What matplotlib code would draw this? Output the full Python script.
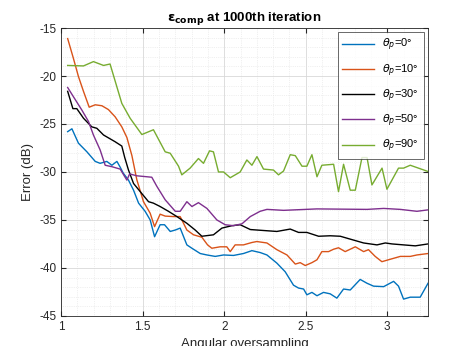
import matplotlib
matplotlib.use("Agg")
import matplotlib.pyplot as plt
from matplotlib.ticker import MultipleLocator, FuncFormatter

plt.rcParams['font.family'] = ['Liberation Sans', 'DejaVu Sans']
plt.rcParams['axes.unicode_minus'] = False

# theta_p = 0 deg
x0 = [1.04, 1.066, 1.106, 1.158, 1.209, 1.239, 1.28, 1.311, 1.342, 1.362, 1.38, 1.413,
      1.444, 1.475, 1.515, 1.546, 1.573, 1.607, 1.634, 1.669, 1.70, 1.73, 1.771, 1.802,
      1.853, 1.894, 1.945, 1.996, 2.057, 2.118, 2.17, 2.221, 2.262, 2.323, 2.374, 2.425,
      2.456, 2.487, 2.507, 2.538, 2.569, 2.609, 2.65, 2.691, 2.732, 2.773, 2.834, 2.876,
      2.916, 2.978, 3.039, 3.069, 3.10, 3.141, 3.202, 3.25]
y0 = [-25.8, -25.5, -27.0, -27.9, -28.9, -29.1, -28.9, -29.3, -28.9, -29.5, -30.1, -30.85,
      -31.9, -33.25, -34.1, -35.0, -36.75, -35.5, -35.5, -36.2, -36.05, -35.85, -37.6, -37.95,
      -38.5, -38.65, -38.8, -38.65, -38.7, -38.5, -38.2, -38.4, -38.65, -39.5, -40.4, -41.8,
      -42.1, -42.2, -42.8, -42.55, -42.9, -42.55, -42.7, -43.15, -42.2, -42.3, -41.2, -41.6,
      -41.9, -41.95, -41.4, -41.9, -43.25, -43.05, -43.05, -41.6]

# theta_p = 10 deg
x10 = [1.04, 1.075, 1.106, 1.137, 1.172, 1.209, 1.25, 1.29, 1.331, 1.372, 1.403, 1.434,
       1.464, 1.505, 1.546, 1.573, 1.607, 1.638, 1.689, 1.73, 1.771, 1.812, 1.863, 1.898,
       1.924, 1.975, 2.016, 2.037, 2.067, 2.118, 2.17, 2.2, 2.262, 2.323, 2.385, 2.436,
       2.466, 2.497, 2.538, 2.569, 2.599, 2.64, 2.671, 2.701, 2.742, 2.804, 2.855, 2.885,
       2.926, 2.967, 3.018, 3.08, 3.141, 3.182, 3.25]
y10 = [-16.1, -18.15, -20.05, -21.6, -23.25, -23.0, -23.1, -23.5, -24.25, -25.3, -26.4, -28.3,
       -30.8, -33.1, -34.3, -35.7, -34.4, -34.6, -34.65, -34.65, -36.05, -36.55, -36.8, -37.6,
       -37.95, -37.8, -37.8, -38.3, -37.6, -37.6, -37.35, -37.25, -37.4, -38.1, -38.65, -39.6,
       -39.45, -39.75, -39.45, -39.15, -38.3, -38.3, -38.05, -37.9, -38.3, -37.8, -38.3, -38.1,
       -38.8, -39.35, -39.1, -38.8, -38.8, -38.65, -38.5]

# theta_p = 30 deg
x30 = [1.04, 1.072, 1.096, 1.137, 1.188, 1.219, 1.26, 1.331, 1.372, 1.39, 1.413, 1.444,
       1.485, 1.536, 1.566, 1.607, 1.658, 1.71, 1.771, 1.822, 1.863, 1.934, 1.986, 2.047,
       2.098, 2.16, 2.241, 2.323, 2.405, 2.456, 2.507, 2.579, 2.65, 2.712, 2.773, 2.855,
       2.937, 2.988, 3.029, 3.10, 3.172, 3.25]
y30 = [-21.6, -23.4, -23.4, -24.4, -25.3, -25.45, -26.15, -26.85, -27.3, -28.5, -29.8, -31.2,
       -32.05, -33.1, -33.25, -33.6, -34.1, -34.65, -35.35, -36.05, -36.7, -36.55, -35.85, -35.6,
       -35.5, -36.0, -36.1, -36.2, -35.95, -36.3, -36.3, -36.7, -36.65, -36.7, -37.0, -37.4,
       -37.6, -37.4, -37.5, -37.6, -37.7, -37.5]

# theta_p = 50 deg
x50 = [1.04, 1.075, 1.127, 1.168, 1.198, 1.239, 1.27, 1.311, 1.362, 1.403, 1.42, 1.464,
       1.526, 1.556, 1.587, 1.638, 1.70, 1.73, 1.771, 1.802, 1.842, 1.894, 1.955, 2.006,
       2.057, 2.109, 2.16, 2.22, 2.262, 2.364, 2.569, 2.876, 2.978, 3.08, 3.182, 3.25]
y50 = [-21.2, -22.15, -23.55, -24.75, -26.15, -27.7, -29.3, -29.45, -29.7, -30.85, -30.2, -30.4,
       -30.5, -30.55, -31.5, -32.9, -34.1, -34.1, -33.1, -33.6, -33.2, -33.8, -35.0, -35.5,
       -35.6, -35.4, -34.65, -34.1, -33.9, -34.0, -33.85, -33.9, -33.8, -33.9, -34.1, -33.95]

# theta_p = 90 deg
x90 = [1.04, 1.137, 1.198, 1.26, 1.30, 1.372, 1.423, 1.495, 1.566, 1.638, 1.669, 1.72,
       1.74, 1.791, 1.842, 1.873, 1.91, 1.934, 1.965, 1.996, 2.037, 2.098, 2.139, 2.17,
       2.201, 2.241, 2.302, 2.333, 2.364, 2.405, 2.436, 2.477, 2.507, 2.538, 2.569, 2.599,
       2.671, 2.701, 2.732, 2.773, 2.804, 2.845, 2.876, 2.906, 2.968, 2.998, 3.069, 3.10,
       3.141, 3.25]
y90 = [-18.9, -18.95, -18.5, -18.9, -18.75, -22.85, -24.4, -26.1, -25.6, -27.9, -28.05, -29.4,
       -30.3, -29.6, -28.6, -29.1, -27.8, -27.9, -30.0, -30.0, -30.6, -30.0, -28.75, -29.3,
       -28.4, -29.7, -29.8, -30.3, -29.9, -28.2, -28.3, -29.4, -29.4, -28.2, -30.5, -29.3,
       -29.2, -32.05, -29.2, -31.9, -31.9, -28.5, -28.5, -31.35, -29.6, -31.8, -29.6, -29.6,
       -29.3, -29.95]

labels = [r'$\theta_p$=0°', r'$\theta_p$=10°', r'$\theta_p$=30°', r'$\theta_p$=50°', r'$\theta_p$=90°']
colors = ['#0072BD', '#D95319', '#000000', '#7E2F8E', '#77AC30']

fig = plt.figure(figsize=(4.74, 3.46), dpi=100)
ax = fig.add_axes([0.129, 0.087, 0.774, 0.832])

for xs, ys, lab, c in zip([x0, x10, x30, x50, x90], [y0, y10, y30, y50, y90], labels, colors):
    ax.plot(xs, ys, color=c, lw=1.0, label=lab)

ax.set_xlim(1, 3.25)
ax.set_ylim(-45, -15)
ax.xaxis.set_major_locator(MultipleLocator(0.5))
ax.xaxis.set_minor_locator(MultipleLocator(0.1))
ax.yaxis.set_major_locator(MultipleLocator(5))
ax.yaxis.set_minor_locator(MultipleLocator(1))
ax.xaxis.set_major_formatter(FuncFormatter(lambda v, p: '%g' % v))
ax.yaxis.set_major_formatter(FuncFormatter(lambda v, p: '%g' % v))
ax.grid(which='major', color='#d8d8d8', lw=0.6)
ax.grid(which='minor', color='#e2e2e2', lw=0.5, ls=':')
ax.set_axisbelow(True)
ax.tick_params(which='both', direction='in', top=True, right=True, labelsize=8.5, colors='#262626')
ax.tick_params(which='minor', length=0)
for s in ax.spines.values():
    s.set_color('#262626')
    s.set_linewidth(0.6)

ax.set_xlabel('Angular oversampling', fontsize=9.5, color='#262626', labelpad=4)
ax.set_ylabel('Error (dB)', fontsize=9.5, color='#262626')
ax.set_title(r'$\mathbf{\epsilon_{comp}}$ at 1000th iteration', fontsize=9.5, fontweight='bold', pad=5)

leg = ax.legend(loc='upper right', fontsize=8, frameon=True, fancybox=False,
                edgecolor='#262626', borderaxespad=0.4, handlelength=2.8, labelspacing=0.8)
leg.get_frame().set_linewidth(0.6)

fig.savefig('out.png', dpi=100)
